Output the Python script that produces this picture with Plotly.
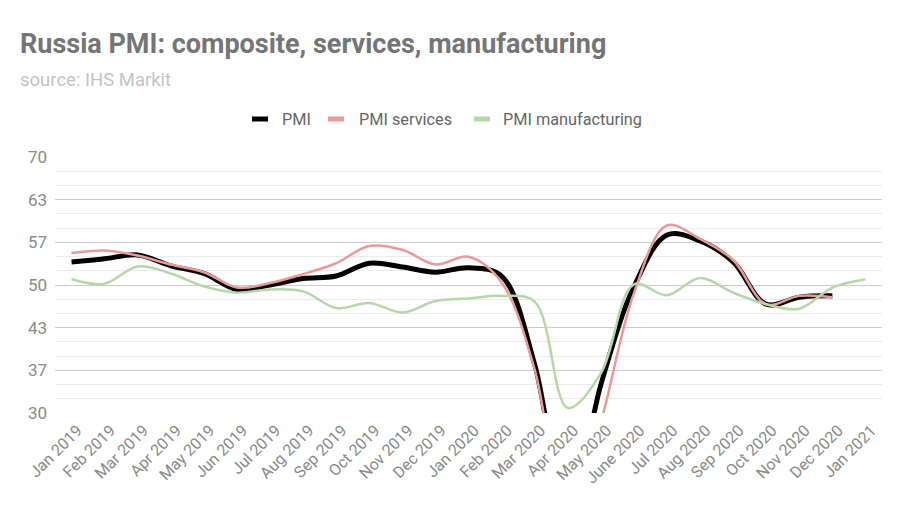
import plotly.graph_objects as go

months = ["Jan 2019", "Feb 2019", "Mar 2019", "Apr 2019", "May 2019", "Jun 2019",
          "Jul 2019", "Aug 2019", "Sep 2019", "Oct 2019", "Nov 2019", "Dec 2019",
          "Jan 2020", "Feb 2020", "Mar 2020", "Apr 2020", "May 2020", "June 2020",
          "Jul 2020", "Aug 2020", "Sep 2020", "Oct 2020", "Nov 2020", "Dec 2020",
          "Jan 2021"]

pmi = [53.6, 54.1, 54.7, 53.0, 51.8, 49.3, 50.0, 51.0, 51.4, 53.4, 52.8, 52.0,
       52.7, 51.4, 37.6, 13.9, 34.4, 49.7, 57.8, 56.9, 53.6, 47.0, 48.1, 48.3, None]
pmi_services = [55.0, 55.4, 54.6, 53.2, 52.0, 49.6, 50.3, 51.7, 53.4, 56.1, 55.5, 53.2,
                54.4, 50.4, 36.8, 12.2, 28.5, 48.7, 59.3, 57.2, 53.9, 47.0, 48.3, 48.1, None]
pmi_manufacturing = [50.9, 50.2, 52.9, 51.8, 49.8, 48.8, 49.3, 49.0, 46.4, 47.2, 45.7, 47.5,
                     47.9, 48.3, 47.4, 30.8, 36.2, 50.1, 48.4, 51.1, 48.8, 47.0, 46.3, 49.6, 50.9]

series_names = ["PMI", "PMI services", "PMI manufacturing"]
series_colors = ["#000000", "#ea9999", "#b6d7a8"]
series_widths = [5, 2.5, 2.5]

y_ticks = [30, 36.667, 43.333, 50, 56.667, 63.333, 70]
y_tick_labels = ["30", "37", "43", "50", "57", "63", "70"]
y_minor = [30 + 40 / 18 * k for k in range(19)]

title_text = "Russia PMI: composite, services, manufacturing"
subtitle_text = "source: IHS Markit"

# plot area geometry (pixels)
L, R, T, B = 55, 18, 157, 97
W, H = 900, 510
PW, PH = W - L - R, H - T - B


def px(x):
    return (x - L) / PW


def py(y):
    return (H - B - y) / PH


fig = go.Figure()
for name, vals, col, wd in zip(series_names, [pmi, pmi_services, pmi_manufacturing],
                               series_colors, series_widths):
    fig.add_trace(go.Scatter(x=months, y=vals, name=name, mode="lines",
                             line=dict(color=col, width=wd, shape="spline", smoothing=1),
                             connectgaps=False, showlegend=False))

annotations = [
    dict(text="<b>" + title_text + "</b>", x=px(18), y=py(44), xref="paper", yref="paper",
         xanchor="left", yanchor="middle", showarrow=False,
         font=dict(family="Roboto", size=27, color="#757575")),
    dict(text=subtitle_text, x=px(18), y=py(80), xref="paper", yref="paper",
         xanchor="left", yanchor="middle", showarrow=False,
         font=dict(family="Roboto", size=18.5, color="#c4c4c4")),
]
shapes = []
legend_sym_x = [252, 328, 474]
legend_txt_x = [280, 357, 501]
for name, col, sx, tx in zip(series_names, series_colors, legend_sym_x, legend_txt_x):
    shapes.append(dict(type="rect", xref="paper", yref="paper", x0=px(sx), x1=px(sx + 16),
                       y0=py(121.5), y1=py(116.5), fillcolor=col, line=dict(width=0)))
    annotations.append(dict(text=name, x=px(tx), y=py(119), xref="paper", yref="paper",
                            xanchor="left", yanchor="middle", showarrow=False,
                            font=dict(family="Roboto", size=16.3, color="#666666")))

fig.update_layout(
    width=W, height=H,
    margin=dict(l=L, r=R, t=T, b=B, pad=0),
    paper_bgcolor="white", plot_bgcolor="white",
    font=dict(family="Roboto", color="#8a8a8a"),
    annotations=annotations, shapes=shapes,
    showlegend=False,
)
fig.update_xaxes(type="category", range=[-0.5, len(months) - 0.5], showgrid=False,
                 showline=False, zeroline=False, ticks="", tickangle=-45,
                 ticklabelshift=6, ticklabelstandoff=4,
                 tickfont=dict(family="Roboto", size=16, color="#8a8a8a"))
fig.update_yaxes(range=[30, 70], tickvals=y_ticks, ticktext=y_tick_labels,
                 showgrid=True, gridcolor="#cccccc", gridwidth=1, zeroline=False,
                 showline=False, ticks="", ticklabelstandoff=7,
                 tickfont=dict(family="Roboto", size=17, color="#8a8a8a"),
                 minor=dict(tickvals=y_minor, showgrid=True, gridcolor="#ebebeb", gridwidth=1))

fig.write_html("out.html")
